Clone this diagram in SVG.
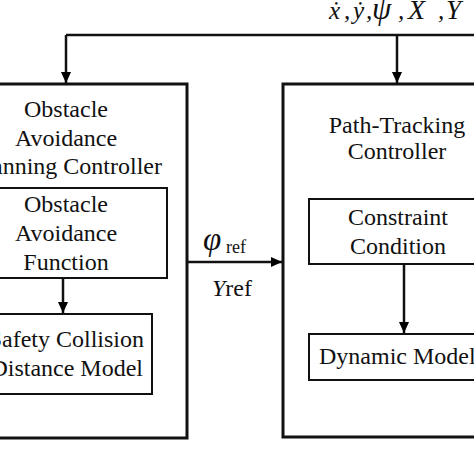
<svg xmlns="http://www.w3.org/2000/svg" width="474" height="474" viewBox="0 0 474 474">
<defs>
<marker id="ah" markerWidth="11" markerHeight="12" refX="12" refY="5.5" orient="auto" markerUnits="userSpaceOnUse" viewBox="0 0 12 11">
<path d="M0,0 L12,5.5 L0,11 Z" fill="#000"/>
</marker>
<style>
text{font-family:"Liberation Serif","Times New Roman","DejaVu Serif",serif;font-size:24px;fill:#111;}
.c{text-anchor:middle;}
.outer{fill:#fff;stroke:#111;stroke-width:3;}
.inner{fill:#fff;stroke:#111;stroke-width:2;}
.ln{fill:none;stroke:#111;stroke-width:2.5;}
.it{font-style:italic;}
</style>
</defs>
<rect width="474" height="474" fill="#fff"/>
<g id="left-controller">
<rect class="outer" x="-40" y="84" width="227" height="354"/>
<text class="c" x="66" y="117">Obstacle</text>
<text class="c" x="66" y="146">Avoidance</text>
<text x="162" y="174" text-anchor="end">Planning Controller</text>
</g>
<g id="oa-function">
<rect class="inner" x="-35" y="188" width="202" height="90"/>
<text class="c" x="66" y="212">Obstacle</text>
<text class="c" x="66" y="241">Avoidance</text>
<text class="c" x="66" y="270">Function</text>
</g>
<g id="safety-model">
<rect class="inner" x="-30" y="314" width="182" height="80"/>
<text x="144" y="347" text-anchor="end">Safety Collision</text>
<text x="143" y="376" text-anchor="end">Distance Model</text>
</g>
<g id="path-tracking">
<rect class="outer" x="283" y="84" width="230" height="353"/>
<text class="c" x="397" y="133">Path-Tracking</text>
<text class="c" x="397" y="159">Controller</text>
</g>
<g id="constraint">
<rect class="inner" x="309" y="199" width="180" height="65"/>
<text class="c" x="398" y="225">Constraint</text>
<text class="c" x="398" y="254">Condition</text>
</g>
<g id="dynamic-model">
<rect class="inner" x="309" y="334" width="180" height="46"/>
<text x="319" y="364">Dynamic Model</text>
</g>
<g id="labels">
<text y="19" class="it" style="font-size:25px"><tspan x="329">ẋ</tspan><tspan x="344">,</tspan><tspan x="353">ẏ</tspan><tspan x="366">,</tspan><tspan x="372" style="font-size:31px">ψ</tspan><tspan x="398">,</tspan><tspan x="408" style="font-size:28px">X</tspan><tspan x="438">,</tspan><tspan x="446" style="font-size:27px">Y</tspan></text>
<text x="203" y="250" class="it" style="font-size:33px">φ</text>
<text x="226" y="253" style="font-size:18px">ref</text>
<text x="212" y="296"><tspan class="it">Y</tspan>ref</text>
</g>
<g id="connectors">
<path class="ln" d="M66,35 H474"/>
<path class="ln" d="M66,35 V83" marker-end="url(#ah)"/>
<path class="ln" d="M397,35 V83" marker-end="url(#ah)"/>
<path class="ln" d="M63,278 V313" marker-end="url(#ah)"/>
<path class="ln" d="M188,262 H282" marker-end="url(#ah)"/>
<path class="ln" d="M404,264 V333" marker-end="url(#ah)"/>
</g>
</svg>
